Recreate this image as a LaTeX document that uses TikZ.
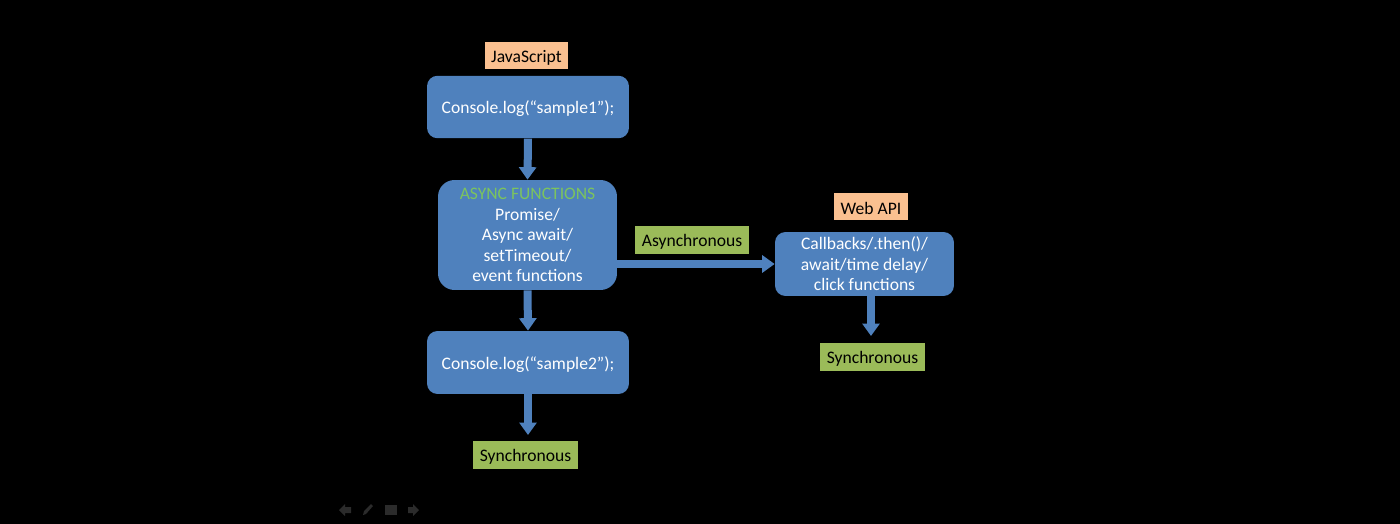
\documentclass[tikz,border=0pt]{standalone}
\usepackage{fontspec}
\setmainfont{Carlito}
\usetikzlibrary{arrows.meta}
\definecolor{boxblue}{HTML}{4F81BD}
\definecolor{tagorange}{HTML}{FAC090}
\definecolor{taggreen}{HTML}{9BBB59}
\definecolor{titlegreen}{HTML}{7CC45E}
\definecolor{navgrey}{HTML}{2B2B2B}
\tikzset{
  every node/.style={inner sep=0pt, align=center, font=\fontsize{10}{11.7}\selectfont,
    execute at begin node={\rule{0pt}{0.95em}}},
  bluebox/.style={fill=boxblue, text=white, minimum width=#1},
  roundsmall/.style={rounded corners=0.21cm},
  roundbig/.style={rounded corners=0.33cm},
  tagbox/.style={minimum height=0.55cm, text=black},
  orangetag/.style={tagbox, fill=tagorange},
  greentag/.style={tagbox, fill=taggreen},
  flow/.style={draw=boxblue, line width=0.16cm, -{Triangle[length=0.25cm,width=0.34cm]}},
  navicon/.style={fill=navgrey}
}
\begin{document}
\begin{tikzpicture}[x=0.02cm,y=0.02cm]
        \useasboundingbox (0,0) rectangle (1400,-524);
        \fill [black] (0,0) rectangle (1400,-524);
        % left column
        \node (jstag) [orangetag, minimum width=1.66cm] at (526.5,-55.5) {JavaScript};
        \node (sample1) [bluebox=4.04cm, roundsmall, minimum height=1.25cm] at (528,-107) {Console.log(“sample1”);};
        \node (async) [bluebox=3.58cm, roundbig, minimum height=2.2cm] at (527.5,-235) {\textcolor{titlegreen}{ASYNC FUNCTIONS}\\Promise/\\Async await/\\setTimeout/\\event functions};
        \node (sample2) [bluebox=4.04cm, roundsmall, minimum height=1.26cm] at (528,-362.5) {Console.log(“sample2”);};
        \node (syncleft) [greentag, minimum width=2.1cm] at (525.5,-455) {Synchronous};
        % right column
        \node (asynctag) [greentag, minimum width=2.28cm] at (692,-240) {Asynchronous};
        \node (webtag) [orangetag, minimum width=1.48cm] at (871,-206.5) {Web API};
        \node (webbox) [bluebox=3.58cm, roundsmall, minimum height=1.28cm] at (864.5,-264) {Callbacks/.then()/\\await/time delay/\\click functions};
        \node (syncright) [greentag, minimum width=2.1cm] at (872.5,-357) {Synchronous};
        % free ends of the arrows
        \coordinate (asyncout) at (async.east |- webbox.west);
        \coordinate (leftfrom) at (528,-394);
        \coordinate (leftto) at (528,-435);
        \coordinate (rightfrom) at (871,-296);
        \coordinate (rightto) at (871,-336);
        % arrows
        \draw [flow] (sample1.south) -- (async.north);
        \draw [flow] (async.south) -- (sample2.north);
        \draw [flow] (leftfrom) -- (leftto);
        \draw [flow] (asyncout) -- (webbox.west);
        \draw [flow] (rightfrom) -- (rightto);
        % slide controls
        \fill [navicon] (339,-510) -- (345,-504) -- (345,-507) -- (351,-507) -- (351,-513) -- (345,-513) -- (345,-516) -- cycle;
        \fill [navicon] (363,-515) -- (364,-511) -- (371,-504) -- (373,-506) -- (366,-514) -- cycle;
        \fill [navicon] (385,-505) rectangle (397,-515);
        \fill [navicon] (419,-510) -- (413,-504) -- (413,-507) -- (408,-507) -- (408,-513) -- (413,-513) -- (413,-516) -- cycle;
\end{tikzpicture}
\end{document}
